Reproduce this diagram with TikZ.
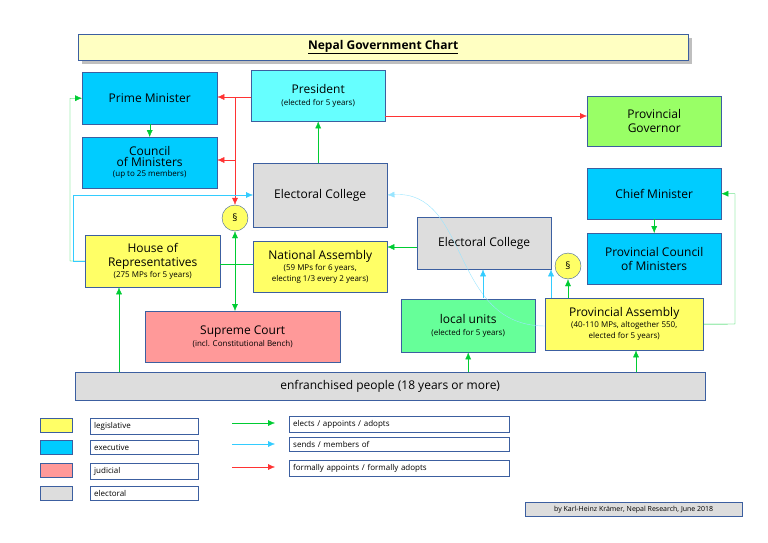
\documentclass[tikz,border=0pt]{standalone}
\usepackage{fontspec}
\setmainfont{Open Sans}
\usetikzlibrary{arrows.meta,shadows}
\definecolor{leg}{RGB}{255,255,102}
\definecolor{exe}{RGB}{0,204,255}
\definecolor{pres}{RGB}{102,255,255}
\definecolor{jud}{RGB}{255,153,153}
\definecolor{elec}{RGB}{221,221,221}
\definecolor{gov}{RGB}{153,255,102}
\definecolor{loc}{RGB}{102,255,153}
\definecolor{frame}{RGB}{60,95,160}
\definecolor{grn}{RGB}{0,204,51}
\definecolor{cya}{RGB}{51,204,255}
\definecolor{rd}{RGB}{255,51,51}
\tikzset{
  box/.style={draw=frame, align=center, inner sep=1pt, font=\fontsize{12}{14}\selectfont},
  para/.style={circle, draw=frame, fill=leg, minimum size=26pt, inner sep=0pt, font=\fontsize{10}{12}\selectfont},
  legbox/.style={draw=frame, anchor=north west, minimum height=14pt, inner sep=4pt, font=\fontsize{8}{9}\selectfont},
  el/.style={grn, -{Latex[length=7pt,width=6pt]}},
  snd/.style={cya, -{Latex[length=7pt,width=6pt]}},
  fo/.style={rd, -{Latex[length=7pt,width=6pt]}}
}
\newcommand{\bx}[6]{\node[box, fill=#2, minimum width=#5pt, minimum height=#6pt, anchor=north west] (#1) at (#3,#4)}
\begin{document}
\begin{tikzpicture}[x=1pt,y=-1pt]
\useasboundingbox (0,0) rectangle (768,543);
% title
\node[draw=frame, fill=leg!40, drop shadow={shadow xshift=4pt, shadow yshift=-4pt, fill=gray}, minimum width=610pt, minimum height=26pt, anchor=north west, font=\fontsize{12}{14}\selectfont\bfseries] (title) at (78,34) {\underline{Nepal Government Chart}};
% boxes
\bx{pm}{exe}{82}{72}{135}{52} {Prime Minister};
\bx{pres}{pres}{251}{70}{134}{51} {President\\[-2pt]{\fontsize{8}{10}\selectfont(elected for 5 years)}};
\bx{com}{exe}{82}{137}{135}{51} {Council\\[-3pt]of Ministers\\[-4pt]{\fontsize{8}{10}\selectfont(up to 25 members)}};
\bx{gov}{gov}{587}{96}{134}{50} {Provincial\\Governor};
\bx{ec}{elec}{253}{163}{134}{64} {Electoral College};
\bx{cm}{exe}{587}{168}{134}{51} {Chief Minister};
\bx{pcm}{exe}{587}{233}{134}{51} {Provincial Council\\of Ministers};
\bx{ecp}{elec}{417}{217}{134}{52} {Electoral College};
\bx{hor}{leg}{85}{235}{135}{52} {House of\\Representatives\\[-3pt]{\fontsize{8}{10}\selectfont(275 MPs for 5 years)}};
\bx{na}{leg}{253}{241}{134}{51} {National Assembly\\[-3pt]{\fontsize{8}{11}\selectfont(59 MPs for 6 years,}\\[-3pt]{\fontsize{8}{11}\selectfont electing 1/3 every 2 years)}};
\bx{sc}{jud}{145}{311}{195}{51} {Supreme Court\\[-2pt]{\fontsize{8}{10}\selectfont(incl. Constitutional Bench)}};
\bx{lu}{loc}{401}{299}{134}{53} {local units\\[-2pt]{\fontsize{8}{10}\selectfont(elected for 5 years)}};
\bx{pa}{leg}{545}{298}{158}{52} {Provincial Assembly\\[-3pt]{\fontsize{8}{11}\selectfont(40-110 MPs, altogether 550,}\\[-3pt]{\fontsize{8}{11}\selectfont elected for 5 years)}};
\bx{ppl}{elec}{75}{372}{630}{28} {enfranchised people (18 years or more)};
\node[para] (s1) at (235,218) {§};
\node[para] (s2) at (568,266) {§};
% formal appointments
\draw[fo] (pres.west |- 0,97) -- (pm.east |- 0,97);
\draw[fo] (235,97) -- (s1.north);
\draw[fo] (235,160) -- (com.east |- 0,160);
\draw[fo] (pres.east |- 0,116) -- (gov.west |- 0,116);
% elections
\draw[el] (ec.north -| pres.south) -- (pres.south);
\draw[el] (pm.south) -- (com.north);
\draw[el] (hor.west) -- (70,261) |- (pm.west);
\draw[grn] (hor.east |- 0,264) -- (na.west |- 0,264);
\draw[grn, {Latex[length=7pt,width=6pt]}-{Latex[length=7pt,width=6pt]}] (s1.south) -- (sc.north -| s1.south);
\draw[el] (ecp.west |- 0,247) -- (na.east |- 0,247);
\draw[el] (s2.south |- pa.north) -- (s2.south);
\draw[el] (cm.south) -- (pcm.north);
\draw[el] (pa.east) -- (735,324) |- (cm.east);
\draw[el] (ppl.north -| 119,0) -- (hor.south -| 119,0);
\draw[el] (ppl.north -| lu.south) -- (lu.south);
\draw[el] (ppl.north -| 636,0) -- (pa.south -| 636,0);
% sending
\draw[snd] (hor.west |- 0,261) -- (73,261) |- (ec.west |- 0,195);
\draw[snd, cya!50, thin] (pa.west |- 0,326) .. controls (450,326) and (470,190) .. (ec.east |- 0,195);
\draw[snd] (pa.north -| 483,0) -- (ecp.south -| 483,0);
\draw[snd] (pa.north -| 551,0) -- (ecp.south -| 551,0);
% legend
\foreach \c/\t/\y in {leg/legislative/418, exe/executive/440, jud/judicial/463, elec/electoral/486}{
  \node[draw=frame, fill=\c, minimum width=32pt, minimum height=14pt, anchor=north west] (k\t) at (40,\y) {};
  \node[legbox, text width=100pt] (l\t) at (90,\y) {\t};
}
\foreach \s/\t/\y/\n in {el/{elects / appoints / adopts}/416/a, snd/{sends / members of}/437/b, fo/{formally appoints / formally adopts}/460/c}{
  \node[legbox, text width=212pt] (m\n) at (289,\y) {\t};
  \coordinate (f\n) at (232,\y+7);
  \draw[\s] (f\n) -- (275,\y+7);
}
\node[draw=frame, fill=elec, anchor=north west, minimum width=217pt, minimum height=14pt, inner sep=1pt, font=\fontsize{7}{8}\selectfont] (credit) at (525,502) {by Karl-Heinz Krämer, Nepal Research, June 2018};
\end{tikzpicture}
\end{document}
